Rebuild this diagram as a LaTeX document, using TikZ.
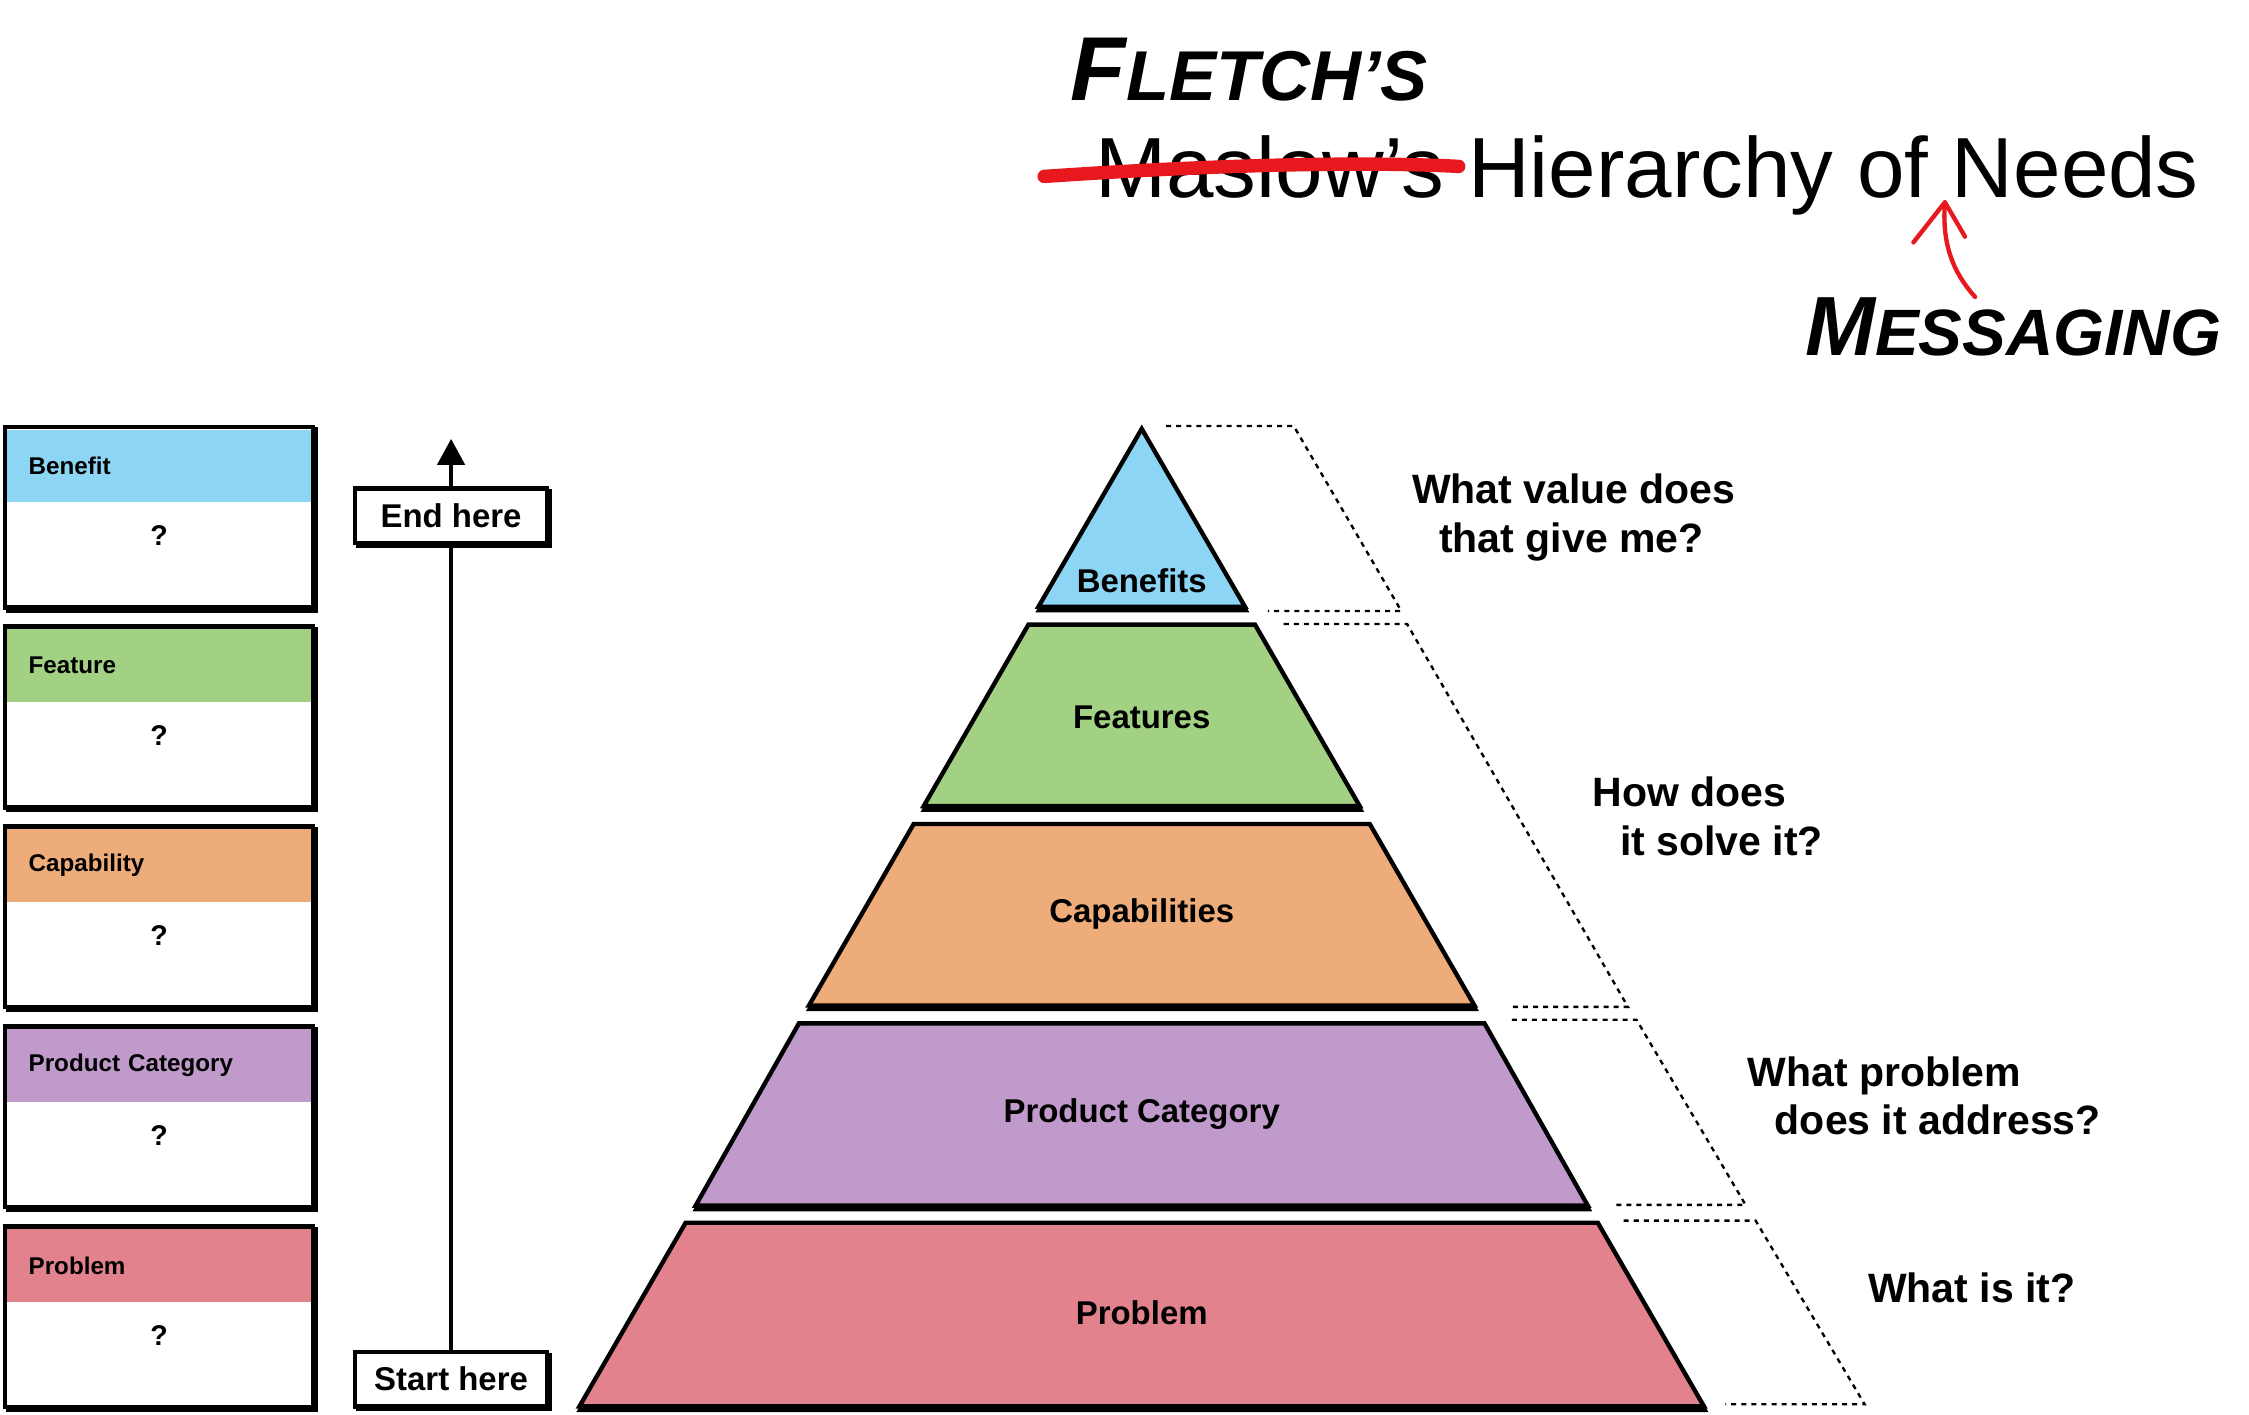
\documentclass[tikz,border=0pt]{standalone}
\usepackage{fontspec}
\setmainfont{Liberation Sans}
\usetikzlibrary{positioning, arrows.meta}

\definecolor{benC}{HTML}{8DD5F4}
\definecolor{feaC}{HTML}{A2D183}
\definecolor{capC}{HTML}{EFAC7B}
\definecolor{catC}{HTML}{BF9ACB}
\definecolor{proC}{HTML}{E2828C}
\definecolor{markred}{HTML}{E8191E}

\begin{document}
\begin{tikzpicture}[x=0.15mm, y=-0.15mm,
      every node/.style={font=\bfseries, inner sep=0pt, align=center},
      card/.style={draw, fill=white, line width=1.3pt,
                   minimum width=32.2mm, minimum height=18.9mm,
                   preaction={draw=black, fill=black, line width=1.3pt,
                              transform canvas={xshift=0.3mm, yshift=-0.3mm}}},
      head/.style={anchor=north, fill=#1, minimum width=31.8mm, minimum height=7.6mm,
                   text width=27.3mm, inner xsep=2.25mm, align=left,
                   font=\fontsize{7.2}{9}\selectfont\bfseries},
      ask/.style={font=\fontsize{8.5}{10}\selectfont\bfseries},
      tag/.style={card, minimum width=20.1mm, minimum height=5.7mm,
                  font=\fontsize{9.8}{12}\selectfont\bfseries},
      layer/.style={draw, line width=1.3pt, fill=#1, line join=miter,
                    preaction={draw=black, fill=black, line width=1.3pt,
                               transform canvas={xshift=0.07mm, yshift=-0.37mm}}},
      lvl/.style={font=\fontsize{9.8}{12}\selectfont\bfseries},
      question/.style={anchor=north west, align=left,
                       font=\fontsize{12.2}{14.5}\selectfont\bfseries},
      bracket/.style={line width=0.7pt, dash pattern=on 1.5pt off 1.5pt},
      climb/.style={line width=1.1pt},
      marker/.style={draw=markred, line cap=round, line join=round},
      brush/.style={anchor=base west, font=\bfseries\itshape},
  ]
    \useasboundingbox (0,0) rectangle (1568,986);

    % Title
    \node[brush] (fletch) at (746,70)
      {\fontsize{27}{30}\selectfont F\fontsize{21}{24}\selectfont LETCH’S};
    \node[anchor=base west, font=\fontsize{25.4}{30}\selectfont]
      (title) at (763,138) {Maslow’s Hierarchy of Needs};
    \draw[marker, line width=4pt] (728,123) .. controls (830,116) and (940,112) .. (1017,116);
    \node[brush] (msg) at (1258,248)
      {\fontsize{25}{30}\selectfont M\fontsize{19.5}{24}\selectfont ESSAGING};
    \coordinate (needs) at (1356,141);
    \coordinate (foot) at (1377,207);
    \draw[marker, line width=1.3pt] (foot) .. controls (1360,188) and (1354,168) .. (needs);
    \draw[marker, line width=1.3pt] (1334,169) -- (needs) -- (1370,165);

    % Column 1: cards
    \node[card] (ben) at (111,360.5) {};
    \node[head=benC] (benH) at ([yshift=-0.45mm]ben.north) {Benefit};
    \node[ask, below=2.3mm of benH] (benQ) {?};

    \node[card, below=1.55mm of ben] (fea) {};
    \node[head=feaC] (feaH) at ([yshift=-0.45mm]fea.north) {Feature};
    \node[ask, below=2.3mm of feaH] (feaQ) {?};

    \node[card, below=1.55mm of fea] (cap) {};
    \node[head=capC] (capH) at ([yshift=-0.45mm]cap.north) {Capability};
    \node[ask, below=2.3mm of capH] (capQ) {?};

    \node[card, below=1.55mm of cap] (cat) {};
    \node[head=catC] (catH) at ([yshift=-0.45mm]cat.north) {Product Category};
    \node[ask, below=2.3mm of catH] (catQ) {?};

    \node[card, below=1.55mm of cat] (pro) {};
    \node[head=proC] (proH) at ([yshift=-0.45mm]pro.north) {Problem};
    \node[ask, below=2.3mm of proH] (proQ) {?};

    % Column 2: start / end
    \node[tag] (finish) at (314.5,359.5) {End here};
    \node[tag] (start) at (314.5,961.5) {Start here};
    \coordinate (top) at (314.5,306);
    \draw[climb] (start.north) -- (finish.south);
    \draw[climb, -{Triangle[length=7.7pt, width=8.1pt]}] (finish.north) -- (top);

    % Column 3: pyramid
    \draw[layer=benC] (796,299) -- (868,423) -- (724,423) -- cycle;
    \draw[layer=feaC] (717,435.5) -- (875,435.5) -- (948,562) -- (644,562) -- cycle;
    \draw[layer=capC] (637,574.5) -- (955,574.5) -- (1028,701) -- (564,701) -- cycle;
    \draw[layer=catC] (557,713.5) -- (1035,713.5) -- (1107,840.5) -- (485,840.5) -- cycle;
    \draw[layer=proC] (478,852.5) -- (1114,852.5) -- (1188,980.5) -- (404,980.5) -- cycle;
    \node[lvl] (benefits) at (796,405) {Benefits};
    \node[lvl] (features) at (796,500) {Features};
    \node[lvl] (capabilities) at (796,637) {Capabilities};
    \node[lvl] (category) at (796,777) {Product Category};
    \node[lvl] (problem) at (796,915) {Problem};

    % Column 4: brackets and questions
    \draw[bracket] (813,297) -- (902,297) -- (977,426) -- (884,426);
    \draw[bracket] (895,435) -- (981,435) -- (1135,702) -- (1054,702);
    \draw[bracket] (1054,711) -- (1141,711) -- (1217,840) -- (1125,840);
    \draw[bracket] (1132,851) -- (1224,851) -- (1300,979) -- (1203,979);
    \node[question] (qben) at (984,330) {What value does\\\hspace*{8.1pt}that give me?};
    \node[question] (qhow) at (1110,541) {How does\\\hspace*{8.1pt}it solve it?};
    \node[question] (qwhat) at (1218,736) {What problem\\\hspace*{8.1pt}does it address?};
    \node[question] (qis) at (1302,887) {What is it?};
  \end{tikzpicture}
\end{document}
